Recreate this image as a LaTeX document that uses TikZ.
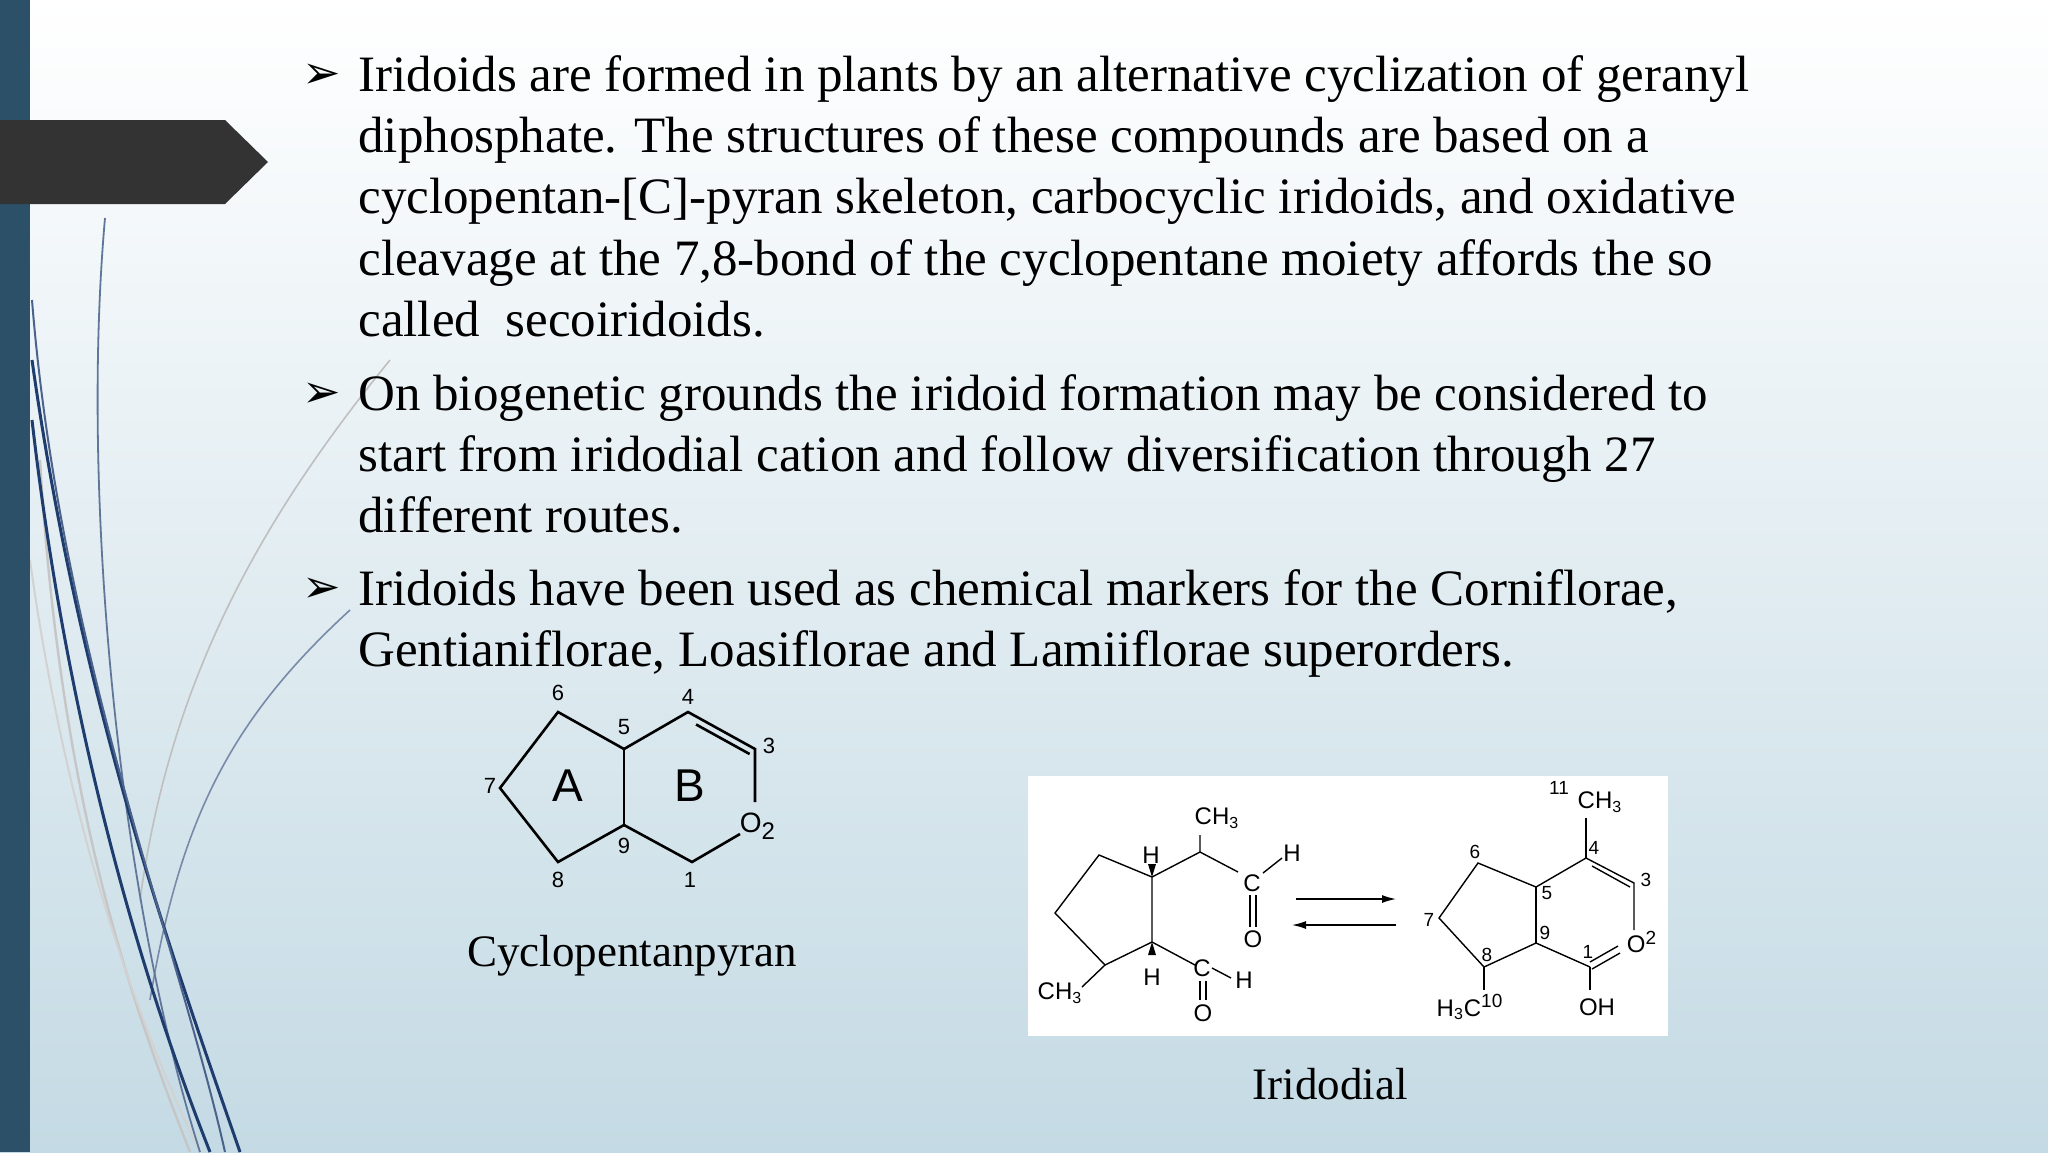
\documentclass[tikz,border=0pt]{standalone}
\usepackage{fontspec}
\setmainfont{Liberation Serif}
\setsansfont{Liberation Sans}
\newfontfamily\dv{DejaVu Sans}
\usetikzlibrary{arrows.meta,calc}
\definecolor{barc}{RGB}{43,80,104}
\definecolor{bgb}{RGB}{196,218,228}
\definecolor{curv}{RGB}{30,60,110}
\begin{document}
\begin{tikzpicture}[x=0.5pt,y=-0.5pt,
 txt/.style={anchor=base west,inner sep=0pt,font=\fontsize{25.5}{28}\selectfont},
 bul/.style={anchor=base west,inner sep=0pt,font=\dv\fontsize{23}{26}\selectfont},
 bond/.style={line width=1.3pt,black},
 tb/.style={line width=0.7pt,black},
 lab/.style={inner sep=0pt,font=\sffamily\fontsize{11}{12}\selectfont},
 sm/.style={inner sep=0pt,font=\sffamily\fontsize{9.5}{10}\selectfont},
 chem/.style={inner sep=0pt,font=\sffamily\fontsize{12}{13}\selectfont},
 captext/.style={inner sep=0pt,font=\fontsize{22.5}{25}\selectfont}]
\useasboundingbox (0,0) rectangle (2048,1152);
\shade[top color=white,bottom color=bgb] (0,0) rectangle (2048,1152);
% decorative curves
\draw[gray!45,line width=1.2pt] (40,460) .. controls (60,800) and (130,1000) .. (190,1152);
\draw[gray!35,line width=1pt] (30,560) .. controls (70,850) and (150,1050) .. (200,1152);
\draw[gray!50,line width=0.8pt] (390,360) .. controls (260,520) and (170,680) .. (140,900);
\draw[curv!60,line width=0.8pt] (350,610) .. controls (230,720) and (180,820) .. (150,1000);
\draw[curv!70,line width=0.9pt] (105,218) .. controls (80,500) and (120,900) .. (200,1152);
\draw[curv,line width=1.5pt] (32,360) .. controls (80,700) and (170,950) .. (240,1152);
\draw[curv,line width=1.5pt] (32,420) .. controls (70,750) and (150,1000) .. (210,1152);
\draw[curv!80,line width=1pt] (32,300) .. controls (60,650) and (180,950) .. (225,1152);
\fill[barc] (0,0) rectangle (30,1152);
\fill[black!80] (0,120) -- (225,120) -- (268,162) -- (225,204) -- (0,204) -- cycle;
% text
\foreach \y in {91,410,605}{\node[bul] at (302,\y-3) {➢};}
\node[txt] (l1) at (358,91) {Iridoids are formed in plants by an alternative cyclization of geranyl};
\node[txt] (l2) at (358,152.4) {diphosphate. The structures of these compounds are based on a};
\node[txt] (l3) at (358,213.8) {cyclopentan-[C]-pyran skeleton, carbocyclic iridoids, and oxidative};
\node[txt] (l4) at (358,275.2) {cleavage at the 7,8-bond of the cyclopentane moiety affords the so};
\node[txt] (l5) at (358,336.6) {called\ \ secoiridoids.};
\node[txt] (l6) at (358,410) {On biogenetic grounds the iridoid formation may be considered to};
\node[txt] (l7) at (358,471.4) {start from iridodial cation and follow diversification through 27};
\node[txt] (l8) at (358,532.8) {different routes.};
\node[txt] (l9) at (358,605) {Iridoids have been used as chemical markers for the Corniflorae,};
\node[txt] (l10) at (358,666.4) {Gentianiflorae, Loasiflorae and Lamiiflorae superorders.};
% cyclopentanpyran
\coordinate (c6) at (558,712); \coordinate (c5) at (624,749); \coordinate (c4) at (688,712);
\coordinate (c3) at (755,749); \coordinate (c3b) at (755,802); \coordinate (c1) at (692,862);
\coordinate (c9) at (624,825); \coordinate (c8) at (558,862); \coordinate (c7) at (500,788);
\node[lab,font=\sffamily\fontsize{14}{15}\selectfont] (o2) at (758,826) {O\textsubscript{\fontsize{12}{13}\selectfont 2}};
\draw[bond] (c3b) -- (c3) -- (c4) -- (c5) -- (c6) -- (c7) -- (c8) -- (c9) -- (c1) -- (740,834);
\draw[bond] (c5) -- (c9);
\draw[bond] ($(c4)!0.12!(c3)+(0,8)$) -- ($(c4)!0.92!(c3)+(0,8)$);
\node[lab] (n6) at (558,693) {6}; \node[lab] (n5) at (624,727) {5}; \node[lab] (n4) at (688,697) {4};
\node[lab] (n3) at (769,746) {3}; \node[lab] (n7) at (490,786) {7}; \node[lab] (n9) at (624,846) {9};
\node[lab] (n8) at (558,880) {8}; \node[lab] (n1) at (690,880) {1};
\node[inner sep=0pt,font=\sffamily\fontsize{23}{26}\selectfont] (A) at (568,786) {A};
\node[inner sep=0pt,font=\sffamily\fontsize{23}{26}\selectfont] (B) at (690,786) {B};
\node[captext] (cp) at (632,956) {Cyclopentanpyran};
% white box
\fill[white] (1028,776) rectangle (1668,1036);
% left molecule
\coordinate (a) at (1099,855); \coordinate (b) at (1055,913); \coordinate (c) at (1105,965);
\coordinate (d) at (1152,942); \coordinate (e) at (1152,877); \coordinate (f) at (1200,852);
\draw[tb] (e) -- (a) -- (b) -- (c) -- (d) -- (e) -- (f) -- (1200,835);
\draw[tb] (f) -- (1238,872);
\draw[tb] (d) -- (1195,965);
\draw[tb] (c) -- (1082,987);
\fill (1152,877) -- (1148,864) -- (1156,864) -- cycle;
\fill (1152,942) -- (1148,955) -- (1156,955) -- cycle;
\node[chem] (ch3a) at (1217,818) {CH\textsubscript{3}};
\node[chem] (ca) at (1252,883) {C};
\node[chem] (ha) at (1292,853) {H};
\draw[tb] (1263,873) -- (1282,858);
\draw[tb] (1250,895) -- (1250,927); \draw[tb] (1256,895) -- (1256,927);
\node[chem] (oa) at (1253,939) {O};
\node[chem] (h1) at (1151,855) {H};
\node[chem] (h2) at (1152,977) {H};
\node[chem] (cb) at (1202,968) {C};
\node[chem] (hb) at (1244,980) {H};
\draw[tb] (1212,968) -- (1231,978);
\draw[tb] (1200,981) -- (1200,1000); \draw[tb] (1206,981) -- (1206,1000);
\node[chem] (ob) at (1203,1013) {O};
\node[chem] (ch3b) at (1060,993) {CH\textsubscript{3}};
% arrows
\coordinate (ar1) at (1296,899); \coordinate (ar2) at (1396,899);
\coordinate (ar3) at (1396,925); \coordinate (ar4) at (1292,925);
\draw[tb,-{Latex[length=7pt,width=4pt]}] (ar1) -- (ar2);
\draw[tb,-{Latex[length=7pt,width=4pt]}] (ar3) -- (ar4);
% right molecule
\coordinate (r6) at (1478,863); \coordinate (r5) at (1536,887); \coordinate (r4) at (1586,858);
\coordinate (r3) at (1634,883); \coordinate (r3b) at (1634,930); \coordinate (r1) at (1590,967);
\coordinate (r9) at (1536,943); \coordinate (r8) at (1484,967); \coordinate (r7) at (1439,918);
\draw[tb] (r3b) -- (r3) -- (r4) -- (r5) -- (r6) -- (r7) -- (r8) -- (r9) -- (r1);
\draw[tb] (r5) -- (r9);
\draw[tb] (1590,962) -- (1618,946);
\draw[tb] (1592,969) -- (1620,953);
\draw[tb] (1592,866) -- (1630,887);
\draw[tb] (r4) -- (1586,818);
\draw[tb] (r8) -- (1484,990);
\draw[tb] (r1) -- (1590,990);
\node[chem] (ch3r) at (1600,802) {CH\textsubscript{3}};
\node[sm] (n11) at (1559,788) {11};
\node[sm] (m4) at (1594,848) {4}; \node[sm] (m3) at (1646,880) {3};
\node[sm] (m6) at (1475,852) {6}; \node[sm] (m5) at (1547,893) {5};
\node[sm] (m7) at (1429,920) {7}; \node[sm] (m9) at (1545,933) {9};
\node[sm] (m8) at (1487,955) {8}; \node[sm] (m1) at (1588,952) {1};
\node[chem] (or) at (1642,942) {O\textsuperscript{\fontsize{9.5}{10}\selectfont 2}};
\node[chem] (hc) at (1470,1007) {H\textsubscript{3}C\textsuperscript{\fontsize{9.5}{10}\selectfont 10}};
\node[chem] (oh) at (1597,1007) {OH};
\node[captext] (ir) at (1330,1084) {Iridodial};
\end{tikzpicture}
\end{document}
